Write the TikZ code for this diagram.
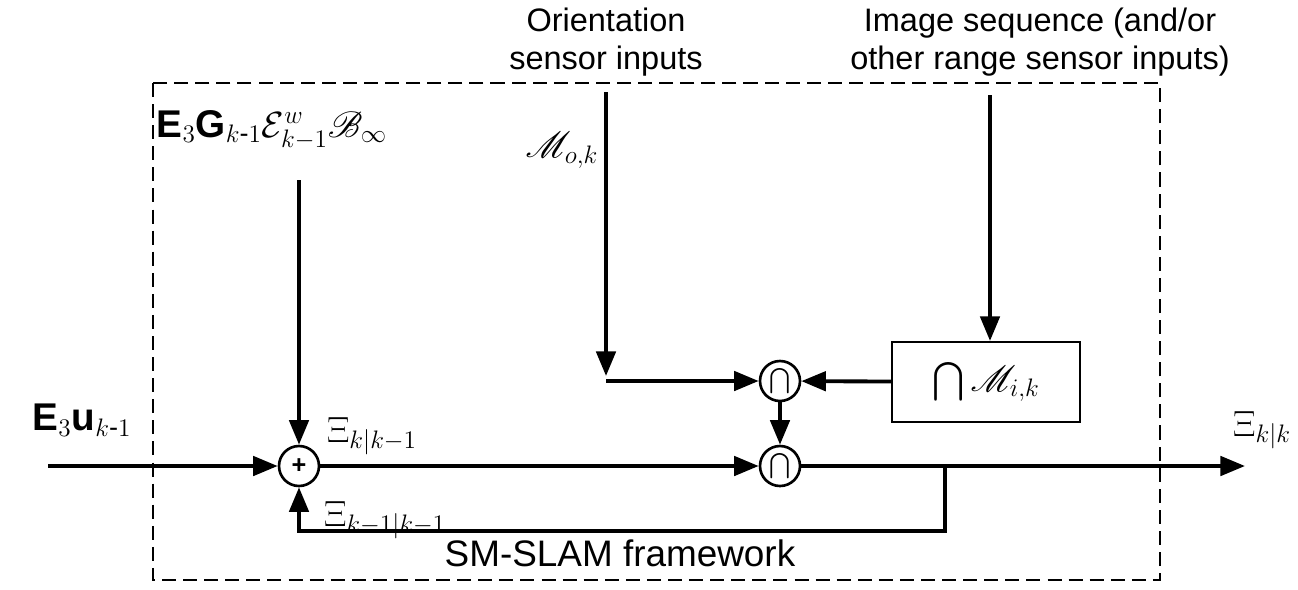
\documentclass[tikz,border=0pt]{standalone}
\usepackage{fontspec}
\setmainfont{Liberation Sans}
\usepackage{amsmath,amssymb,mathrsfs}
\usetikzlibrary{arrows.meta}
\begin{document}
\begin{tikzpicture}[x=0.02cm,y=-0.02cm,
  every path/.append style={line width=2.2pt},
  arr/.style={-{Triangle[length=14pt,width=11pt]}},
  op/.style={circle,draw,line width=1.5pt,minimum size=0.8cm,inner sep=0pt,font=\Large\bfseries},
  lbl/.style={font=\fontsize{18.5}{22}\selectfont},
  mth/.style={font=\fontsize{22}{24}\selectfont}]
\useasboundingbox (0,0) rectangle (1298,589);
\draw[dash pattern=on 8pt off 4pt,line width=1.3pt] (153,83) rectangle (1160,580);
\node[op] (plus) at (299,466) {+};
\node[op] (cap1) at (780,381) {$\bigcap$};
\node[op] (cap2) at (780,466) {$\bigcap$};
\node[draw,line width=1.2pt,minimum width=188*0.02cm,minimum height=80*0.02cm,mth] (box) at (986,382) {$\bigcap\mathscr{M}_{i,k}$};
\node[lbl,align=center] (ori) at (606,42) {Orientation\\sensor inputs};
\node[lbl,align=center] (img) at (1040,42) {Image sequence (and/or\\other range sensor inputs)};
\node[font=\fontsize{21}{24}\selectfont] (fw) at (620,553) {SM-SLAM framework};
\node[mth] (g) at (272,130) {$\mathbf{E}_3\mathbf{G}_{k\text{-}1}\mathcal{E}^{w}_{k-1}\mathscr{B}_\infty$};
\node[mth] (mo) at (562,150) {$\mathscr{M}_{o,k}$};
\node[mth] (u) at (82,420) {$\mathbf{E}_3\mathbf{u}_{k\text{-}1}$};
\node[mth] (xp) at (372,436) {$\Xi_{k|k-1}$};
\node[mth] (xf) at (385,520) {$\Xi_{k-1|k-1}$};
\node[mth] (xo) at (1262,430) {$\Xi_{k|k}$};
\coordinate (in) at (48,466);
\coordinate (out) at (1245,466);
\coordinate (gtop) at (299,180);
\coordinate (otop) at (606,92);
\coordinate (ocor) at (606,381);
\coordinate (itop) at (990,95);
\coordinate (fb1) at (945,466);
\coordinate (fb2) at (945,531);
\coordinate (fb3) at (299,531);
\draw[arr] (in) -- (plus);
\draw[arr] (gtop) -- (plus);
\draw[arr] (plus) -- (cap2);
\draw[arr] (cap2) -- (out);
\draw[arr] (cap1) -- (cap2);
\draw[arr] (box) -- (cap1);
\draw[arr] (itop) -- (box.north -| itop);
\draw[arr] (otop) -- (606,376);
\draw[arr] (ocor) -- (cap1);
\draw[arr] (fb1) -- (fb2) -- (fb3) -- (plus);
\end{tikzpicture}
\end{document}
